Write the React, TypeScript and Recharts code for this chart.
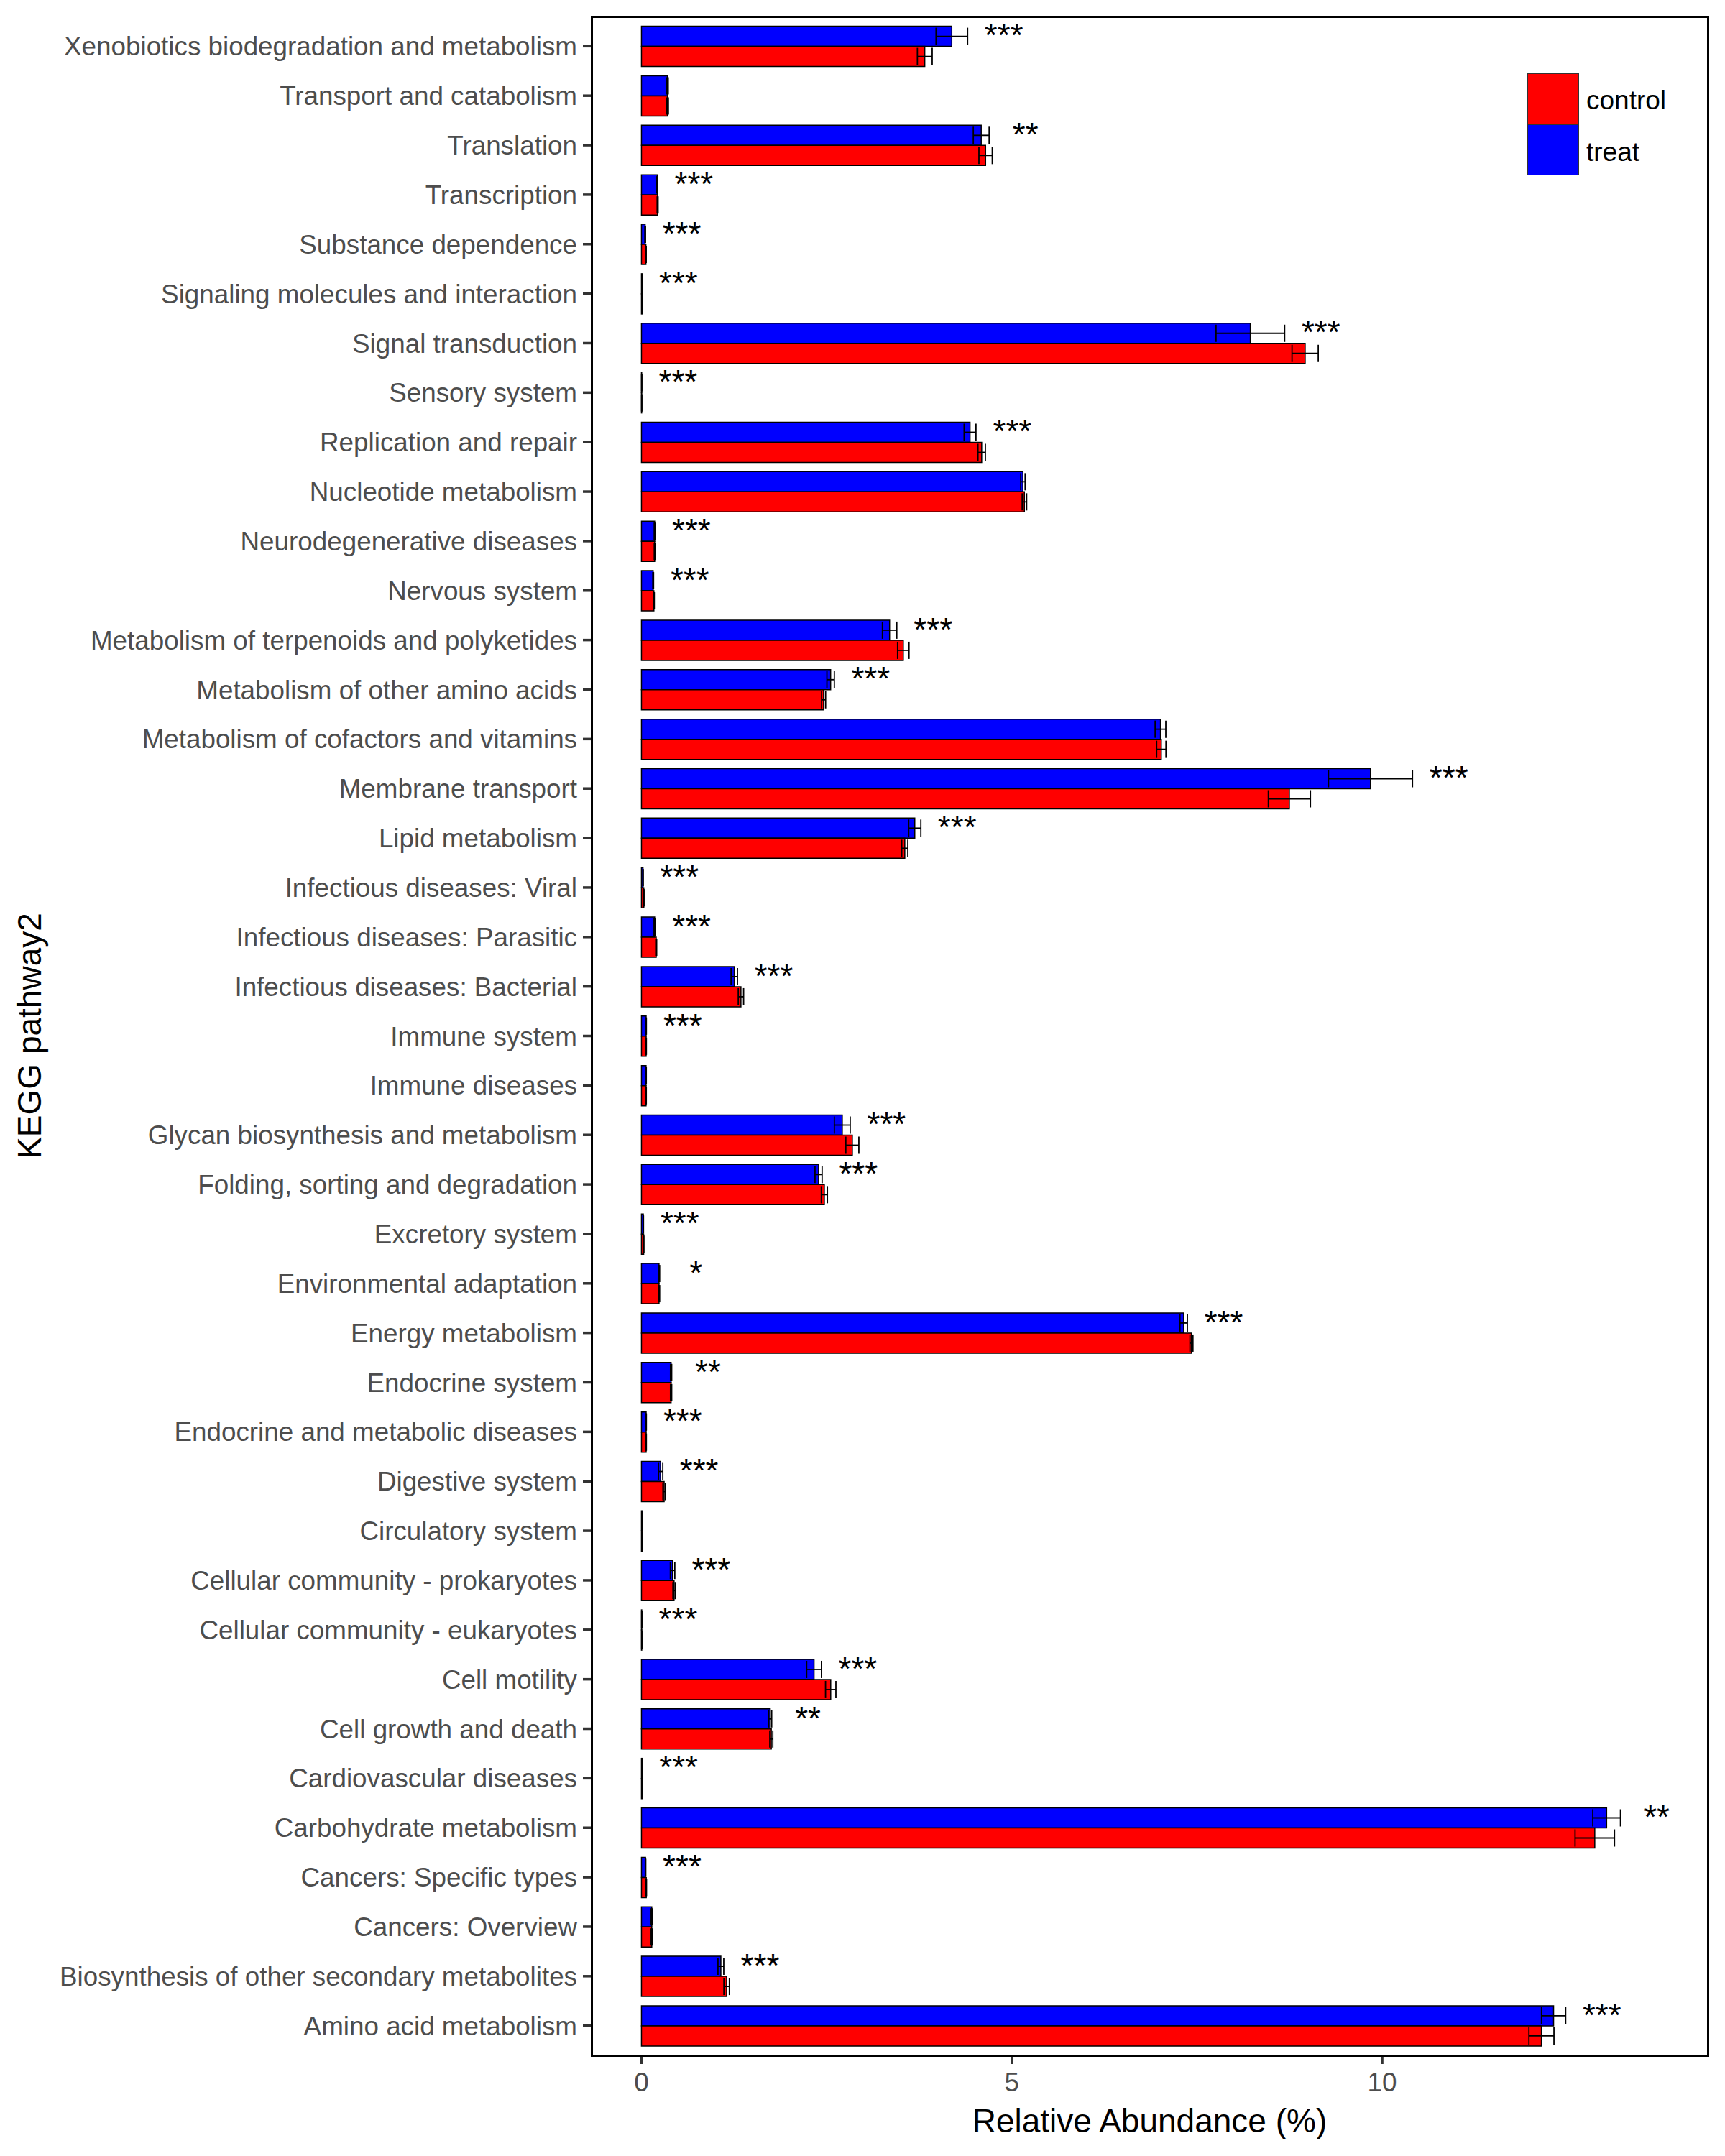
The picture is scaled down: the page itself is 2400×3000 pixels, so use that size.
import React from "react";
import {
  ComposedChart,
  Bar,
  XAxis,
  YAxis,
  ErrorBar,
  ReferenceDot,
  Legend,
  Label,
} from "recharts";

const FONT = '"Liberation Sans", Arial, Helvetica, sans-serif';

const CATEGORIES = [
  "Xenobiotics biodegradation and metabolism",
  "Transport and catabolism",
  "Translation",
  "Transcription",
  "Substance dependence",
  "Signaling molecules and interaction",
  "Signal transduction",
  "Sensory system",
  "Replication and repair",
  "Nucleotide metabolism",
  "Neurodegenerative diseases",
  "Nervous system",
  "Metabolism of terpenoids and polyketides",
  "Metabolism of other amino acids",
  "Metabolism of cofactors and vitamins",
  "Membrane transport",
  "Lipid metabolism",
  "Infectious diseases: Viral",
  "Infectious diseases: Parasitic",
  "Infectious diseases: Bacterial",
  "Immune system",
  "Immune diseases",
  "Glycan biosynthesis and metabolism",
  "Folding, sorting and degradation",
  "Excretory system",
  "Environmental adaptation",
  "Energy metabolism",
  "Endocrine system",
  "Endocrine and metabolic diseases",
  "Digestive system",
  "Circulatory system",
  "Cellular community - prokaryotes",
  "Cellular community - eukaryotes",
  "Cell motility",
  "Cell growth and death",
  "Cardiovascular diseases",
  "Carbohydrate metabolism",
  "Cancers: Specific types",
  "Cancers: Overview",
  "Biosynthesis of other secondary metabolites",
  "Amino acid metabolism",
];

const TREAT = [
  4.19, 0.351, 4.587, 0.213, 0.05, 0.008, 8.22, 0.003, 4.436, 5.15, 0.178,
  0.158, 3.35, 2.554, 7.007, 9.842, 3.69, 0.021, 0.178, 1.253, 0.063, 0.062,
  2.711, 2.391, 0.025, 0.237, 7.32, 0.4, 0.063, 0.259, 0.015, 0.42, 0.004,
  2.33, 1.738, 0.01, 13.03, 0.055, 0.139, 1.072, 12.314,
];

const CONTROL = [
  3.825, 0.351, 4.646, 0.218, 0.06, 0.008, 8.96, 0.003, 4.593, 5.17, 0.178,
  0.168, 3.535, 2.459, 7.018, 8.747, 3.555, 0.032, 0.199, 1.343, 0.063, 0.062,
  2.847, 2.469, 0.03, 0.237, 7.425, 0.4, 0.063, 0.306, 0.015, 0.44, 0.004,
  2.555, 1.753, 0.015, 12.87, 0.065, 0.139, 1.15, 12.15,
];

const TREAT_ERR = [
  0.213, 0.01, 0.107, 0.005, 0.004, 0.001, 0.463, 0.001, 0.08, 0.03, 0.006,
  0.005, 0.097, 0.05, 0.072, 0.567, 0.082, 0.002, 0.008, 0.043, 0.003, 0.003,
  0.107, 0.048, 0.002, 0.008, 0.05, 0.008, 0.003, 0.029, 0.001, 0.03, 0.001,
  0.1, 0.02, 0.001, 0.187, 0.003, 0.008, 0.039, 0.163,
];

const CONTROL_ERR = [
  0.1, 0.012, 0.09, 0.006, 0.004, 0.001, 0.177, 0.001, 0.05, 0.03, 0.005,
  0.005, 0.077, 0.027, 0.063, 0.284, 0.041, 0.002, 0.006, 0.036, 0.003, 0.003,
  0.088, 0.041, 0.002, 0.008, 0.02, 0.008, 0.003, 0.016, 0.001, 0.015, 0.001,
  0.07, 0.02, 0.001, 0.266, 0.003, 0.008, 0.037, 0.169,
];

const STARS = [
  "***", "", "**", "***", "***", "***", "***", "***", "***", "", "***",
  "***", "***", "***", "", "***", "***", "***", "***", "***", "***", "",
  "***", "***", "***", "*", "***", "**", "***", "***", "", "***", "***",
  "***", "**", "***", "**", "***", "", "***", "***",
];

const X_TICKS = [0, 5, 10];
const X_DOMAIN: [number, number] = [-0.674, 14.395];
const STAR_GAP = 0.49;

const SERIES = [
  { key: "control", name: "control", color: "#FF0000" },
  { key: "treat", name: "treat", color: "#0000FF" },
];

const data = CATEGORIES.map((name, i) => ({
  name,
  treat: TREAT[i],
  control: CONTROL[i],
  treatErr: TREAT_ERR[i],
  controlErr: CONTROL_ERR[i],
  stars: STARS[i],
  starX: TREAT[i] + TREAT_ERR[i] + STAR_GAP,
}));

// chart geometry
const W = 2400;
const H = 3000;
const MARGIN = { top: 23, right: 24, bottom: 30, left: 23 };
const Y_AXIS_W = 800;
const X_AXIS_H = 110;
const BORDER = 3;

function LegendBox() {
  return (
    <svg width={220} height={160} style={{ display: "block" }}>
      {SERIES.map((s, i) => (
        <g key={s.key}>
          <rect
            x={0.5}
            y={2.5 + i * 71}
            width={71}
            height={70}
            fill={s.color}
            stroke="#333"
            strokeWidth={1}
          />
          <text
            x={82}
            y={52 + i * 72}
            fontSize={37}
            fontFamily={FONT}
            fill="#000"
          >
            {s.name}
          </text>
        </g>
      ))}
    </svg>
  );
}

const tickLine = { stroke: "#333333", strokeWidth: 3.5 };
const tickStyle = { fill: "#4D4D4D", fontSize: 36.8, fontFamily: FONT };

export default function App() {
  const plotLeft = MARGIN.left + Y_AXIS_W;
  const plotTop = MARGIN.top;
  const plotW = W - plotLeft - MARGIN.right;
  const plotH = H - plotTop - MARGIN.bottom - X_AXIS_H;

  return (
    <div
      style={{
        position: "absolute",
        left: 0,
        top: 0,
        width: W,
        height: H,
        background: "#fff",
        fontFamily: FONT,
      }}
    >
      <ComposedChart
        width={W}
        height={H}
        data={data}
        layout="vertical"
        margin={MARGIN}
        barCategoryGap="9.75%"
        barGap={0}
      >
        <XAxis
          type="number"
          domain={X_DOMAIN}
          allowDataOverflow
          ticks={X_TICKS}
          height={X_AXIS_H}
          tick={tickStyle}
          tickSize={12}
          tickMargin={12}
          tickLine={tickLine}
          axisLine={false}
        >
          <Label
            content={(p: any) => {
              const vb = p.viewBox;
              return (
                <text
                  x={vb.x + vb.width / 2}
                  y={vb.y + 107}
                  textAnchor="middle"
                  fontSize={46}
                  fontFamily={FONT}
                  fill="#000"
                >
                  Relative Abundance (%)
                </text>
              );
            }}
          />
        </XAxis>
        <YAxis
          type="category"
          dataKey="name"
          width={Y_AXIS_W}
          padding={{ top: 6.9, bottom: 6.9 }}
          interval={0}
          tick={tickStyle}
          tickSize={12}
          tickMargin={8}
          tickLine={tickLine}
          axisLine={false}
        >
          <Label
            content={(p: any) => {
              const vb = p.viewBox;
              const x = vb.x + 34;
              const y = vb.y + vb.height / 2;
              return (
                <text
                  x={x}
                  y={y}
                  transform={`rotate(-90, ${x}, ${y})`}
                  textAnchor="middle"
                  fontSize={46}
                  fontFamily={FONT}
                  fill="#000"
                >
                  KEGG pathway2
                </text>
              );
            }}
          />
        </YAxis>
        <Legend
          layout="horizontal"
          verticalAlign="middle"
          align="center"
          wrapperStyle={{ left: 2125, top: 100, width: 220, height: 160 }}
          content={() => <LegendBox />}
        />
        <Bar
          dataKey="treat"
          name="treat"
          fill="#0000FF"
          stroke="#000"
          strokeWidth={1.5}
          isAnimationActive={false}
        >
          <ErrorBar
            dataKey="treatErr"
            direction="x"
            width={12}
            stroke="#000"
            strokeWidth={1.8}
          />
        </Bar>
        <Bar
          dataKey="control"
          name="control"
          fill="#FF0000"
          stroke="#000"
          strokeWidth={1.5}
          isAnimationActive={false}
        >
          <ErrorBar
            dataKey="controlErr"
            direction="x"
            width={12}
            stroke="#000"
            strokeWidth={1.8}
          />
        </Bar>
        {data
          .filter((d) => d.stars)
          .map((d) => (
            <ReferenceDot
              key={d.name}
              x={d.starX}
              y={d.name}
              r={1}
              shape={(p: any) => (
                <text
                  x={p.cx}
                  y={p.cy + 1}
                  textAnchor="middle"
                  fontSize={46}
                  fontFamily={FONT}
                  fill="#000"
                >
                  {d.stars}
                </text>
              )}
            />
          ))}
      </ComposedChart>
      {/* panel border */}
      <div
        style={{
          position: "absolute",
          left: plotLeft - BORDER / 2,
          top: plotTop - BORDER / 2,
          width: plotW + BORDER,
          height: plotH + BORDER,
          border: `${BORDER}px solid #000`,
          boxSizing: "border-box",
          pointerEvents: "none",
        }}
      />
    </div>
  );
}
